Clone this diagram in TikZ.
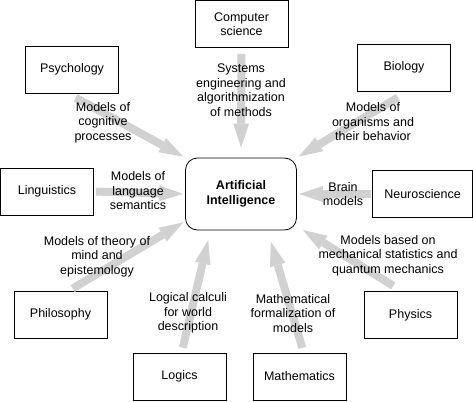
\documentclass[tikz,border=0pt]{standalone}
\usepackage{fontspec}
\setmainfont{Liberation Sans}
\usetikzlibrary{arrows.meta}

\tikzset{
  field/.style={draw, line width=0.8pt, minimum width=93pt, minimum height=47pt,
    inner xsep=11pt, align=center},
  core/.style={draw, line width=0.8pt, rounded corners=12pt, minimum width=111pt,
    minimum height=72pt, align=center, font=\fontsize{12.5}{14.5}\selectfont\bfseries},
  influence/.style={line width=8pt, color=black!18,
    -{Triangle[width=16pt,length=24pt,line width=0pt]}},
  note/.style={align=center, inner sep=0pt}
}

\begin{document}
\begin{tikzpicture}[x=1pt, y=-1pt, font=\fontsize{12.5}{14.5}\selectfont]
  \useasboundingbox (0,0) rectangle (473,401);
  % fields around the core
  \node[core]  (ai)    at (241,194)   {Artificial\\Intelligence};
  \node[field] (cs)    at (241.5,24)  {Computer\\science};
  \node[field] (psy)   at (72,69.5)   {Psychology};
  \node[field] (bio)   at (404,67.5)  {Biology};
  \node[field] (ling)  at (47,191.5)  {Linguistics};
  \node[field, minimum width=100pt] (neuro) at (422.5,194) {Neuroscience};
  \node[field] (phil)  at (60.5,314.5) {Philosophy};
  \node[field] (logic) at (179.5,376.5) {Logics};
  \node[field] (math)  at (299.5,376.5) {Mathematics};
  \node[field] (phys)  at (410.5,315)  {Physics};

  \path[influence]
  (cs.south)  edge [shorten <=6pt, shorten >=10pt] (ai.north)
  (psy.-100)  edge [shorten <=9pt, shorten >=2pt]  (ai.north west)
  (bio.-80)   edge [shorten <=12pt, shorten >=2pt] (ai.north east)
  (ling.east) edge [shorten <=2pt, shorten >=2pt]  (ai.west)
  (neuro.west) edge [shorten <=1pt, shorten >=2pt] (ai.east)
  (phil.70)   edge [shorten <=4pt, shorten >=2pt]  (ai.206)
  (logic.85)  edge [shorten <=5pt, shorten >=10pt] (ai.230)
  (math.80)   edge [shorten <=5pt, shorten >=12pt] (ai.-54)
  (phys.110)  edge [shorten <=10pt, shorten >=7pt] (ai.-30)
  ;

  % labels of the influences
  \node[note] (lcs)    at (241,90)    {Systems\\engineering and\\algorithmization\\of methods};
  \node[note] (lpsy)   at (103,122.5) {Models of\\cognitive\\processes};
  \node[note] (lbio)   at (373,122)   {Models of\\organisms and\\their behavior};
  \node[note] (lling)  at (138,191)   {Models of\\language\\semantics};
  \node[note] (lneuro) at (343,194)   {Brain\\models};
  \node[note] (lphil)  at (97,256.5)  {Models of theory of\\mind and\\epistemology};
  \node[note] (llogic) at (188,313)   {Logical calculi\\for world\\description};
  \node[note] (lmath)  at (293,313.5) {Mathematical\\formalization of\\models};
  \node[note] (lphys)  at (388,255.5) {Models based on\\mechanical statistics and\\quantum mechanics};
\end{tikzpicture}
\end{document}
